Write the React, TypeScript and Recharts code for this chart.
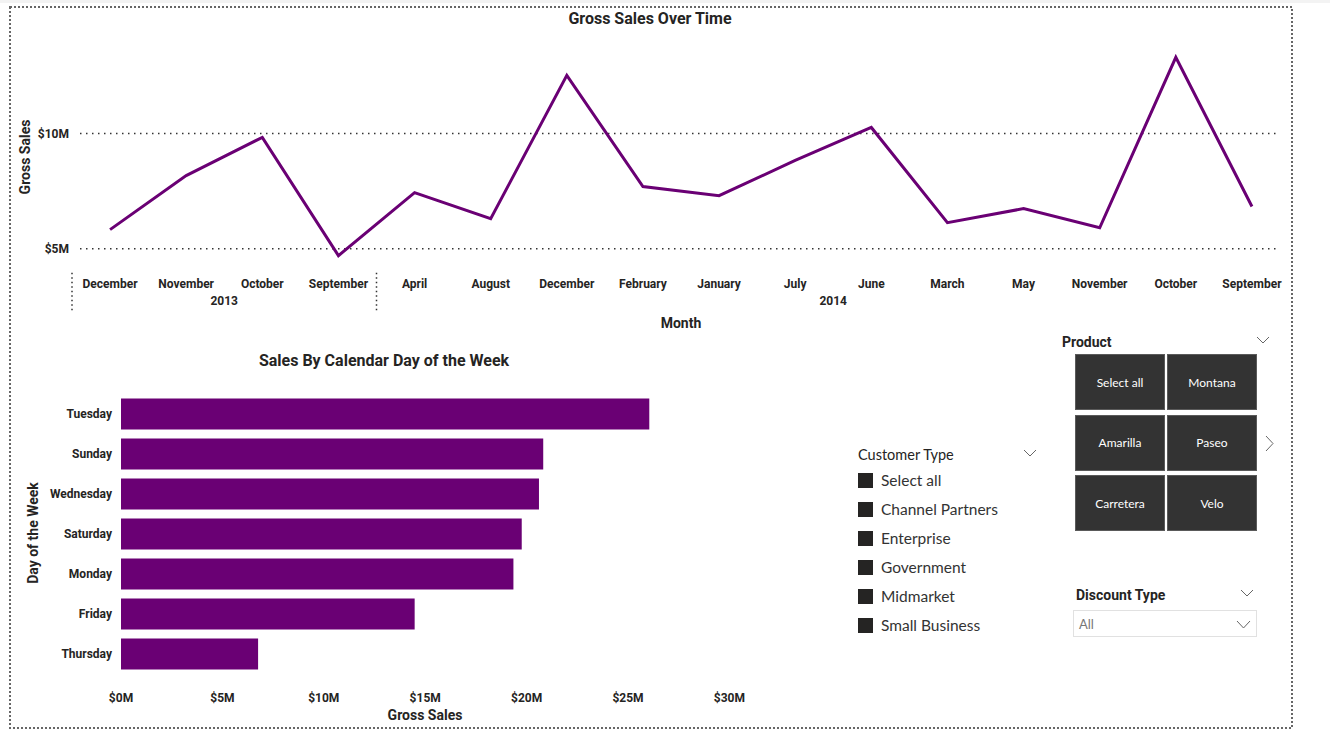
import React from 'react';
import { LineChart, Line, XAxis, YAxis, CartesianGrid, BarChart, Bar } from 'recharts';

// ---------- Data ----------
const monthNames = ['December', 'November', 'October', 'September', 'April', 'August', 'December', 'February', 'January', 'July', 'June', 'March', 'May', 'November', 'October', 'September'];
const monthYears = ['2013', '2013', '2013', '2013', '2014', '2014', '2014', '2014', '2014', '2014', '2014', '2014', '2014', '2014', '2014', '2014'];
const grossSalesM = [5.83, 8.17, 9.83, 4.7, 7.43, 6.3, 12.52, 7.7, 7.3, 8.83, 10.26, 6.13, 6.74, 5.91, 13.3, 6.83];
const yearLabels = ['2013', '2014'];
const lineYTicks = [5, 10];

const days = ['Tuesday', 'Sunday', 'Wednesday', 'Saturday', 'Monday', 'Friday', 'Thursday'];
const daySalesM = [26.05, 20.82, 20.61, 19.76, 19.35, 14.48, 6.76];
const barXTicks = [0, 5, 10, 15, 20, 25, 30];

const customerTypes = ['Select all', 'Channel Partners', 'Enterprise', 'Government', 'Midmarket', 'Small Business'];
const products = ['Select all', 'Montana', 'Amarilla', 'Paseo', 'Carretera', 'Velo'];
const discountValue = 'All';

// ---------- Derived tables ----------
const lineData = monthNames.map((m, i) => ({
  idx: i,
  month: m,
  year: monthYears[i],
  sales: grossSalesM[i],
}));
const monthTicks = lineData.map((d) => d.idx);
const xDomain: [number, number] = [-0.5, monthNames.length - 0.5];

// year groups: first/last index per year
const yearGroups = yearLabels.map((y) => {
  const idxs = monthYears.map((v, i) => (v === y ? i : -1)).filter((i) => i >= 0);
  return { label: y, start: Math.min(...idxs), end: Math.max(...idxs) };
});
const yearTicks: number[] = [];
yearGroups.forEach((g) => {
  yearTicks.push(g.start - 0.5);
  yearTicks.push((g.start + g.end) / 2);
});

const barData = days.map((d, i) => ({ day: d, sales: daySalesM[i] }));

// ---------- Styles ----------
const DIN = "Roboto, 'DejaVu Sans', sans-serif";
const UI = "Lato, 'Open Sans', sans-serif";
const PURPLE = '#6A0074';
const TXT = '#252423';

const MonthTick = (props: any) => {
  const { x, y, payload } = props;
  const label = monthNames[payload.value];
  return (
    <text x={x} y={y} dy="0.71em" textAnchor="middle" fontFamily={DIN} fontSize={12} fontWeight={700} fill={TXT}>
      {label}
    </text>
  );
};

const YearTick = (props: any) => {
  const { x, y, payload } = props;
  const g = yearGroups.find((gg) => (gg.start + gg.end) / 2 === payload.value);
  if (g) {
    return (
      <text x={x} y={y} dy="0.71em" textAnchor="middle" fontFamily={DIN} fontSize={12} fontWeight={700} fill={TXT}>
        {g.label}
      </text>
    );
  }
  return <line x1={x} x2={x} y1={y - 24} y2={y + 14} stroke="#333" strokeWidth={1.5} strokeDasharray="1.5 3" />;
};

const GridLine = (props: any) => {
  const { x1, x2, y1, y2 } = props;
  return <line key={`g-${y1}`} x1={x1 + 8} x2={x2 - 10} y1={y1} y2={y2} stroke="#333" strokeWidth={1.5} strokeDasharray="1.5 4.5" />;
};

const Chevron = ({ left, top, w = 12, h = 6, color = '#666' }: any) => (
  <svg style={{ position: 'absolute', left, top }} width={w + 2} height={h + 2}>
    <polyline points={`1,1 ${w / 2 + 1},${h + 1} ${w + 1},1`} fill="none" stroke={color} strokeWidth={1} />
  </svg>
);

export default function App() {
  return (
    <div style={{ position: 'absolute', left: 0, top: 0, width: 1330, height: 753, background: '#fff', overflow: 'hidden' }}>
      <div style={{ position: 'absolute', left: 0, top: 0, width: 1330, height: 3, background: '#f3f3f3' }} />
      {/* dotted frame */}
      <svg style={{ position: 'absolute', left: 0, top: 0 }} width={1330} height={753}>
        <rect x={10} y={7} width={1282} height={721} fill="none" stroke="#666" strokeWidth={2} strokeDasharray="2 2" />
      </svg>

      {/* ---------- Line chart ---------- */}
      <div style={{ position: 'absolute', left: 0, top: 0 }}>
        <LineChart width={1330} height={340} data={lineData} margin={{ top: 41.2, right: 40, bottom: 10.2, left: 0 }}>
          <CartesianGrid vertical={false} horizontal={GridLine as any} syncWithTicks />
          <XAxis dataKey="idx" type="number" domain={xDomain} ticks={monthTicks} height={18} tick={<MonthTick />} tickLine={false} axisLine={false} tickSize={0} tickMargin={8} interval={0} allowDataOverflow />
          <XAxis xAxisId="yr" dataKey="idx" type="number" domain={xDomain} ticks={yearTicks} height={40} tick={<YearTick />} tickLine={false} axisLine={false} tickSize={0} tickMargin={7} interval={0} allowDataOverflow />
          <YAxis width={72} domain={[4, 14]} ticks={lineYTicks} tickFormatter={(v: number) => `$${v}M`} tick={{ fontFamily: DIN, fontSize: 12, fontWeight: 700, fill: TXT }} tickLine={false} axisLine={false} tickSize={0} tickMargin={3} allowDataOverflow />
          <Line dataKey="sales" stroke={PURPLE} strokeWidth={3} dot={false} activeDot={false} isAnimationActive={false} />
          <Line xAxisId="yr" dataKey="sales" stroke="transparent" strokeWidth={0} dot={false} activeDot={false} isAnimationActive={false} />
        </LineChart>
      </div>
      <div style={{ position: 'absolute', left: 450, width: 400, top: 8, lineHeight: '22px', textAlign: 'center', fontFamily: DIN, fontWeight: 700, fontSize: 16, color: TXT }}>
        Gross Sales Over Time
      </div>
      <div style={{ position: 'absolute', left: 581, width: 200, top: 313, lineHeight: '20px', textAlign: 'center', fontFamily: DIN, fontWeight: 700, fontSize: 14, color: TXT }}>
        Month
      </div>
      <div style={{ position: 'absolute', left: 25 - 100, width: 200, top: 157 - 10, lineHeight: '20px', textAlign: 'center', fontFamily: DIN, fontWeight: 700, fontSize: 14, color: TXT, transform: 'rotate(-90deg)' }}>
        Gross Sales
      </div>

      {/* ---------- Bar chart ---------- */}
      <div style={{ position: 'absolute', left: 0, top: 340 }}>
        <BarChart width={800} height={400} data={barData} layout="vertical" margin={{ top: 53.5, right: 70.6, bottom: 36.5, left: 0 }}>
          <XAxis type="number" domain={[0, 30]} ticks={barXTicks} height={30} tickFormatter={(v: number) => `$${v}M`} tick={{ fontFamily: DIN, fontSize: 12, fontWeight: 700, fill: TXT }} tickLine={false} axisLine={false} tickSize={0} tickMargin={20} interval={0} />
          <YAxis type="category" dataKey="day" width={121} tick={{ fontFamily: DIN, fontSize: 12, fontWeight: 700, fill: TXT }} tickLine={false} axisLine={false} tickSize={0} tickMargin={9} interval={0} />
          <Bar dataKey="sales" fill={PURPLE} barSize={31} isAnimationActive={false} />
        </BarChart>
      </div>
      <div style={{ position: 'absolute', left: 184, width: 400, top: 350, lineHeight: '22px', textAlign: 'center', fontFamily: DIN, fontWeight: 700, fontSize: 16, color: TXT }}>
        Sales By Calendar Day of the Week
      </div>
      <div style={{ position: 'absolute', left: 325, width: 200, top: 705, lineHeight: '20px', textAlign: 'center', fontFamily: DIN, fontWeight: 700, fontSize: 14, color: TXT }}>
        Gross Sales
      </div>
      <div style={{ position: 'absolute', left: 33 - 100, width: 200, top: 533 - 10, lineHeight: '20px', textAlign: 'center', fontFamily: DIN, fontWeight: 700, fontSize: 14, color: TXT, transform: 'rotate(-90deg)' }}>
        Day of the Week
      </div>

      {/* ---------- Customer Type slicer ---------- */}
      <div style={{ position: 'absolute', left: 858, top: 445, lineHeight: '20px', fontFamily: UI, fontSize: 14.5, color: TXT }}>Customer Type</div>
      <Chevron left={1023} top={449} />
      {customerTypes.map((c, i) => (
        <div key={c} style={{ position: 'absolute', left: 858, top: 472 + i * 29, height: 16, display: 'flex', alignItems: 'center' }}>
          <div style={{ width: 15, height: 15, background: '#252423' }} />
          <div style={{ marginLeft: 8, fontFamily: UI, fontSize: 15.5, color: '#333', lineHeight: '16px', whiteSpace: 'nowrap' }}>{c}</div>
        </div>
      ))}

      {/* ---------- Product slicer ---------- */}
      <div style={{ position: 'absolute', left: 1062, top: 332, lineHeight: '20px', fontFamily: DIN, fontWeight: 700, fontSize: 14, color: TXT }}>Product</div>
      <Chevron left={1256} top={336} />
      {products.map((p, i) => {
        const col = i % 2;
        const row = Math.floor(i / 2);
        return (
          <div
            key={p}
            style={{
              position: 'absolute',
              left: 1075 + col * 92,
              top: 354 + row * 60.5,
              width: 90,
              height: 56,
              boxSizing: 'border-box',
              background: '#333',
              border: '1px solid #5a5a5a',
              color: '#fff',
              fontFamily: UI,
              fontSize: 12,
              display: 'flex',
              alignItems: 'center',
              justifyContent: 'center',
            }}
          >
            {p}
          </div>
        );
      })}
      <svg style={{ position: 'absolute', left: 1265, top: 435 }} width={10} height={18}>
        <polyline points="1,1 8,8.5 1,16" fill="none" stroke="#666" strokeWidth={1} />
      </svg>

      {/* ---------- Discount Type slicer ---------- */}
      <div style={{ position: 'absolute', left: 1076, top: 585, lineHeight: '20px', fontFamily: DIN, fontWeight: 700, fontSize: 14, color: TXT }}>Discount Type</div>
      <Chevron left={1240} top={589} />
      <div style={{ position: 'absolute', left: 1073, top: 610, width: 184, height: 27, boxSizing: 'border-box', border: '1px solid #e1e1e1', background: '#fff' }}>
        <div style={{ position: 'absolute', left: 5, top: 4, lineHeight: '18px', fontFamily: UI, fontSize: 13, color: '#777' }}>{discountValue}</div>
      </div>
      <Chevron left={1236} top={620} w={13} h={7} />
    </div>
  );
}
